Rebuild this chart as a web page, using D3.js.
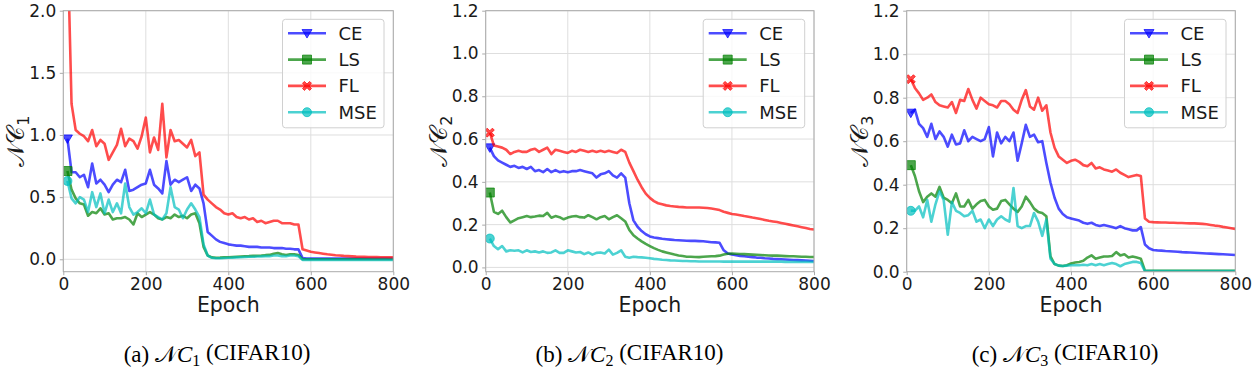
<!DOCTYPE html>
<html><head><meta charset="utf-8">
<script src="https://cdn.jsdelivr.net/npm/d3@7"></script>
<style>body{margin:0;background:#fff} svg{display:block}</style>
</head><body><svg id="c" width="1258" height="368"></svg>
<script>
const epochs = [10,20,30,40,50,60,70,80,90,100,110,120,130,140,150,160,170,180,190,200,
210,220,230,240,250,260,270,280,290,300,310,320,330,340,350,360,370,380,390,400,
410,420,430,440,450,460,470,480,490,500,510,520,530,540,550,560,570,580,590,600,
610,620,630,640,650,660,670,680,690,700,710,720,730,740,750,760,770,780,790,800];

const seriesNames = ["CE","LS","FL","MSE"];

// NC1 (CIFAR10)
const nc1CE = [0.97,0.70,0.70,0.66,0.68,0.58,0.77,0.61,0.64,0.60,0.54,0.60,0.64,0.62,0.72,0.55,0.56,0.58,0.60,0.61,
0.72,0.60,0.57,0.53,0.79,0.60,0.64,0.62,0.64,0.66,0.55,0.60,0.57,0.45,0.22,0.19,0.16,0.14,0.13,0.12,
0.115,0.11,0.11,0.105,0.10,0.10,0.10,0.095,0.095,0.095,0.09,0.09,0.09,0.085,0.085,0.08,0.08,0.01,0.005,0.005,
0.005,0.005,0.005,0.005,0.005,0.005,0.005,0.005,0.005,0.005,0.005,0.005,0.005,0.005,0.005,0.005,0.005,0.005,0.005,0.005];
const nc1LS = [0.71,0.56,0.49,0.45,0.44,0.35,0.38,0.37,0.41,0.36,0.37,0.32,0.33,0.33,0.34,0.32,0.28,0.37,0.34,0.36,
0.38,0.36,0.33,0.32,0.34,0.33,0.36,0.34,0.35,0.33,0.36,0.37,0.29,0.10,0.03,0.015,0.012,0.013,0.015,0.016,
0.018,0.02,0.022,0.024,0.025,0.027,0.028,0.03,0.033,0.035,0.045,0.05,0.04,0.035,0.04,0.04,0.035,0.0,0.0,0.0,
0.0,0.0,0.0,0.0,0.0,0.0,0.0,0.0,0.0,0.0,0.0,0.0,0.0,0.0,0.0,0.0,0.0,0.0,0.0,0.0];
const nc1FL = [2.6,1.25,1.04,1.01,0.99,0.95,1.04,0.91,0.96,0.93,0.80,0.86,0.92,1.05,0.91,0.97,0.95,0.89,0.99,1.14,
0.86,0.98,0.88,1.25,0.82,1.04,0.95,0.96,0.93,0.90,0.96,0.83,0.86,0.52,0.48,0.45,0.42,0.40,0.37,0.36,
0.37,0.34,0.33,0.34,0.32,0.33,0.30,0.31,0.29,0.30,0.31,0.31,0.29,0.29,0.29,0.28,0.28,0.08,0.07,0.06,
0.055,0.05,0.045,0.04,0.037,0.033,0.03,0.027,0.025,0.023,0.021,0.02,0.019,0.018,0.017,0.017,0.016,0.016,0.015,0.015];
const nc1MSE = [0.63,0.49,0.45,0.50,0.48,0.38,0.54,0.42,0.53,0.37,0.48,0.38,0.45,0.37,0.61,0.42,0.36,0.38,0.41,0.37,
0.48,0.36,0.34,0.32,0.37,0.58,0.42,0.40,0.33,0.40,0.45,0.40,0.34,0.12,0.03,0.012,0.008,0.008,0.01,0.012,
0.013,0.015,0.016,0.018,0.02,0.02,0.022,0.023,0.025,0.025,0.03,0.03,0.025,0.025,0.03,0.03,0.025,-0.005,-0.005,-0.005,
-0.005,-0.005,-0.005,-0.005,-0.005,-0.005,-0.005,-0.005,-0.005,-0.005,-0.005,-0.005,-0.005,-0.005,-0.005,-0.005,-0.005,-0.005,-0.005,-0.005];

// NC2 (CIFAR10)
const nc2CE = [0.56,0.52,0.50,0.49,0.48,0.47,0.475,0.465,0.47,0.46,0.47,0.45,0.455,0.445,0.46,0.445,0.455,0.445,0.45,0.445,
0.45,0.45,0.455,0.45,0.445,0.44,0.42,0.435,0.44,0.45,0.43,0.42,0.44,0.42,0.30,0.22,0.19,0.17,0.155,0.145,
0.14,0.137,0.134,0.132,0.13,0.128,0.127,0.126,0.125,0.124,0.124,0.123,0.122,0.12,0.118,0.117,0.115,0.08,0.065,0.06,
0.057,0.054,0.052,0.05,0.048,0.046,0.045,0.043,0.042,0.04,0.039,0.038,0.037,0.036,0.035,0.034,0.033,0.032,0.031,0.03];
const nc2LS = [0.35,0.26,0.25,0.265,0.235,0.21,0.22,0.23,0.235,0.24,0.235,0.238,0.242,0.24,0.255,0.232,0.24,0.235,0.225,0.233,
0.238,0.24,0.235,0.233,0.244,0.235,0.225,0.235,0.24,0.225,0.235,0.244,0.23,0.215,0.175,0.15,0.135,0.122,0.11,0.10,
0.09,0.082,0.075,0.07,0.065,0.06,0.056,0.053,0.05,0.05,0.049,0.048,0.05,0.051,0.052,0.053,0.055,0.06,0.064,0.065,
0.064,0.063,0.062,0.061,0.06,0.059,0.058,0.057,0.056,0.055,0.055,0.054,0.053,0.052,0.052,0.051,0.05,0.05,0.049,0.049];
const nc2FL = [0.63,0.57,0.565,0.56,0.55,0.53,0.54,0.545,0.54,0.54,0.55,0.555,0.54,0.55,0.56,0.53,0.55,0.545,0.54,0.535,
0.545,0.54,0.55,0.545,0.54,0.545,0.54,0.545,0.54,0.545,0.54,0.535,0.55,0.54,0.49,0.45,0.41,0.375,0.345,0.325,
0.31,0.30,0.295,0.29,0.287,0.285,0.283,0.282,0.28,0.28,0.28,0.28,0.279,0.278,0.275,0.272,0.268,0.26,0.255,0.25,
0.247,0.244,0.24,0.237,0.233,0.23,0.226,0.222,0.218,0.215,0.212,0.208,0.204,0.20,0.196,0.192,0.188,0.184,0.18,0.177];
const nc2MSE = [0.135,0.10,0.085,0.10,0.075,0.08,0.078,0.08,0.07,0.08,0.072,0.075,0.07,0.075,0.068,0.07,0.08,0.068,0.068,0.08,
0.075,0.07,0.072,0.062,0.07,0.06,0.068,0.07,0.065,0.083,0.06,0.068,0.08,0.05,0.045,0.05,0.048,0.047,0.045,0.043,
0.04,0.038,0.036,0.035,0.033,0.032,0.031,0.03,0.03,0.029,0.029,0.028,0.028,0.028,0.028,0.028,0.028,0.027,0.027,0.027,
0.027,0.027,0.027,0.027,0.027,0.027,0.027,0.027,0.027,0.027,0.027,0.027,0.026,0.026,0.026,0.026,0.026,0.026,0.026,0.026];

// NC3 (CIFAR10)
const nc3CE = [0.73,0.745,0.68,0.66,0.62,0.68,0.61,0.645,0.62,0.575,0.63,0.585,0.59,0.65,0.60,0.62,0.61,0.60,0.61,0.665,
0.53,0.64,0.59,0.62,0.60,0.64,0.51,0.59,0.675,0.62,0.63,0.595,0.60,0.50,0.41,0.34,0.29,0.265,0.25,0.245,
0.24,0.235,0.225,0.22,0.225,0.215,0.21,0.215,0.21,0.205,0.20,0.21,0.20,0.195,0.19,0.19,0.205,0.125,0.108,0.10,
0.098,0.097,0.095,0.094,0.093,0.092,0.09,0.089,0.088,0.087,0.086,0.085,0.084,0.083,0.082,0.081,0.08,0.079,0.078,0.077];
const nc3LS = [0.49,0.44,0.37,0.32,0.345,0.36,0.345,0.39,0.34,0.33,0.315,0.36,0.30,0.30,0.33,0.29,0.31,0.325,0.33,0.30,
0.285,0.29,0.325,0.33,0.31,0.29,0.275,0.30,0.345,0.32,0.29,0.275,0.27,0.255,0.07,0.035,0.028,0.026,0.03,0.038,
0.042,0.045,0.05,0.065,0.075,0.06,0.065,0.07,0.07,0.072,0.09,0.075,0.08,0.065,0.07,0.065,0.06,0.005,0.004,0.004,
0.004,0.004,0.004,0.004,0.004,0.004,0.004,0.004,0.004,0.004,0.004,0.004,0.004,0.004,0.004,0.004,0.004,0.004,0.004,0.004];
const nc3FL = [0.885,0.845,0.82,0.79,0.80,0.815,0.78,0.765,0.76,0.755,0.78,0.73,0.79,0.785,0.84,0.79,0.75,0.80,0.785,0.77,
0.765,0.755,0.785,0.785,0.77,0.745,0.73,0.79,0.835,0.76,0.745,0.80,0.74,0.765,0.64,0.57,0.53,0.515,0.50,0.51,
0.515,0.505,0.49,0.485,0.50,0.475,0.48,0.47,0.465,0.46,0.47,0.455,0.445,0.435,0.44,0.445,0.44,0.245,0.23,0.228,
0.227,0.226,0.226,0.225,0.225,0.224,0.224,0.223,0.222,0.222,0.221,0.22,0.218,0.215,0.212,0.21,0.206,0.203,0.2,0.197];
const nc3MSE = [0.28,0.28,0.30,0.25,0.33,0.23,0.31,0.37,0.33,0.17,0.32,0.28,0.27,0.255,0.26,0.28,0.23,0.24,0.20,0.24,
0.21,0.24,0.255,0.24,0.23,0.385,0.21,0.20,0.21,0.21,0.27,0.23,0.165,0.24,0.06,0.035,0.028,0.026,0.028,0.03,
0.03,0.03,0.032,0.03,0.035,0.03,0.035,0.03,0.035,0.04,0.035,0.025,0.035,0.04,0.045,0.045,0.04,0.003,0.003,0.003,
0.003,0.003,0.003,0.003,0.003,0.003,0.003,0.003,0.003,0.003,0.003,0.003,0.003,0.003,0.003,0.003,0.003,0.003,0.003,0.003];

const panelSeries = [[nc1CE,nc1LS,nc1FL,nc1MSE],[nc2CE,nc2LS,nc2FL,nc2MSE],[nc3CE,nc3LS,nc3FL,nc3MSE]];
const yDomains = [[-0.1,2.0],[-0.02,1.2],[0,1.2]];
const yTickValues = [[0,0.5,1.0,1.5,2.0],[0,0.2,0.4,0.6,0.8,1.0,1.2],[0,0.2,0.4,0.6,0.8,1.0,1.2]];
const xTickValues = [0,200,400,600,800];
const subscripts = ["1","2","3"];
const captionLetters = ["(a)","(b)","(c)"];
const captionDataset = "(CIFAR10)";

// ---- layout & style ----
const colors = ["#0000ff","#008000","#ff0000","#00bfbf"];
const markers = ["tri","sq","x","circ"];
const frames = [{l:63.3,r:393.3},{l:485.7,r:814},{l:906.7,r:1235.3}];
const plotTop = 10.7, plotBottom = 271.7;
const captionX = [217, 629.5, 1065];

const svg = d3.select("#c");

function markerPath(type, s){
  const h = s/2;
  if(type==="tri") return `M${-h},${-h*0.75}L${h},${-h*0.75}L0,${h*0.95}Z`;
  if(type==="sq") return `M${-h},${-h}H${h}V${h}H${-h}Z`;
  if(type==="x"){
    const a=h, k=h*0.42;
    const p=[[0,-k],[a-k,-a],[a,-a+k],[k,0],[a,a-k],[a-k,a],[0,k],[-a+k,a],[-a,a-k],[-k,0],[-a,-a+k],[-a+k,-a]];
    return "M"+p.map(d=>d.join(",")).join("L")+"Z";
  }
  return d3.symbol(d3.symbolCircle, Math.PI*h*h)();
}
const markerSizes = {tri:10, sq:9, x:9, circ:9};

panelSeries.forEach((series, pi)=>{
  const f = frames[pi];
  const x = d3.scaleLinear().domain([0,800]).range([f.l,f.r]);
  const y = d3.scaleLinear().domain(yDomains[pi]).range([plotBottom, plotTop]);
  const g = svg.append("g");

  g.append("g").selectAll("line").data(yTickValues[pi]).join("line")
    .attr("x1",f.l).attr("x2",f.r).attr("y1",d=>y(d)).attr("y2",d=>y(d))
    .attr("stroke","#dedede").attr("stroke-width",1);
  g.append("g").selectAll("line").data(xTickValues).join("line")
    .attr("y1",plotTop).attr("y2",plotBottom).attr("x1",d=>x(d)).attr("x2",d=>x(d))
    .attr("stroke","#dedede").attr("stroke-width",1);

  const ax = g.append("g").attr("transform",`translate(0,${plotBottom})`)
    .call(d3.axisBottom(x).tickValues(xTickValues).tickFormat(d3.format("d")).tickSize(3.5).tickPadding(3));
  const ay = g.append("g").attr("transform",`translate(${f.l},0)`)
    .call(d3.axisLeft(y).tickValues(yTickValues[pi]).tickFormat(d3.format(".1f")).tickSize(3.5).tickPadding(3.5));
  [ax,ay].forEach(a=>{
    a.select(".domain").remove();
    a.selectAll(".tick line").attr("stroke","#aaaaaa");
    a.selectAll(".tick text").attr("fill","#1a1a1a").style("font-family","DejaVu Sans").style("font-size","17px");
  });

  const cid = "clip"+pi;
  svg.append("clipPath").attr("id",cid).append("rect")
    .attr("x",f.l).attr("y",plotTop).attr("width",f.r-f.l).attr("height",plotBottom-plotTop);

  const plot = g.append("g").attr("clip-path",`url(#${cid})`);
  const line = d3.line().x((d,i)=>x(epochs[i])).y(d=>y(d));
  series.forEach((vals, si)=>{
    plot.append("path").attr("d",line(vals)).attr("fill","none")
      .attr("stroke",colors[si]).attr("stroke-opacity",0.7).attr("stroke-width",2.6)
      .attr("stroke-linejoin","round");
    plot.append("path").attr("d",markerPath(markers[si],markerSizes[markers[si]]))
      .attr("transform",`translate(${x(epochs[0])},${y(vals[0])})`)
      .attr("fill",colors[si]).attr("fill-opacity",0.7)
      .attr("stroke",colors[si]).attr("stroke-opacity",0.7).attr("stroke-width",1);
  });

  g.append("rect").attr("x",f.l).attr("y",plotTop).attr("width",f.r-f.l).attr("height",plotBottom-plotTop)
    .attr("fill","none").attr("stroke","#aaaaaa").attr("stroke-width",1);

  const lw = 101.5, lh = 108.5;
  const lx = f.r - 9.3 - lw, ly = plotTop + 8.6;
  const lg = g.append("g");
  lg.append("rect").attr("x",lx).attr("y",ly).attr("width",lw).attr("height",lh).attr("rx",3)
    .attr("fill","#ffffff").attr("fill-opacity",0.8).attr("stroke","#d0d0d0").attr("stroke-width",1);
  seriesNames.forEach((nm, si)=>{
    const yy = ly + 14 + si*26.3;
    lg.append("line").attr("x1",lx+5.5).attr("x2",lx+43.5).attr("y1",yy).attr("y2",yy)
      .attr("stroke",colors[si]).attr("stroke-opacity",0.7).attr("stroke-width",2.6);
    lg.append("path").attr("d",markerPath(markers[si],markerSizes[markers[si]]))
      .attr("transform",`translate(${lx+24.5},${yy})`)
      .attr("fill",colors[si]).attr("fill-opacity",0.7)
      .attr("stroke",colors[si]).attr("stroke-opacity",0.7).attr("stroke-width",1);
    lg.append("text").attr("x",lx+56).attr("y",yy).attr("dy","0.36em")
      .style("font-family","DejaVu Sans").style("font-size","18px").attr("fill","#1a1a1a").text(nm);
  });

  g.append("text").attr("x",(f.l+f.r)/2).attr("y",312).attr("text-anchor","middle")
    .style("font-family","DejaVu Sans").style("font-size","20.5px").attr("fill","#1a1a1a").text("Epoch");

  const yl = g.append("text").attr("transform",`translate(${f.l-39},${(plotTop+plotBottom)/2}) rotate(-90)`)
    .attr("text-anchor","middle").attr("fill","#1a1a1a").style("font-size","24px");
  yl.append("tspan").style("font-family","DejaVu Serif, DejaVu Sans").text("𝒩𝒞");
  yl.append("tspan").attr("dy","0.3em").style("font-family","DejaVu Sans").style("font-size","16px").text(subscripts[pi]);

  const cp = svg.append("text").attr("x",captionX[pi]).attr("y",362).attr("text-anchor","middle")
    .style("font-family","Liberation Serif").style("font-size","23px").attr("fill","#000");
  cp.append("tspan").text(captionLetters[pi]+" ");
  cp.append("tspan").style("font-family","DejaVu Serif").text("𝒩");
  cp.append("tspan").style("font-style","italic").text("C");
  cp.append("tspan").attr("dy","0.25em").style("font-size","16px").text(subscripts[pi]);
  cp.append("tspan").attr("dy","-0.25em").text(" "+captionDataset);
});
</script>
</body></html>
